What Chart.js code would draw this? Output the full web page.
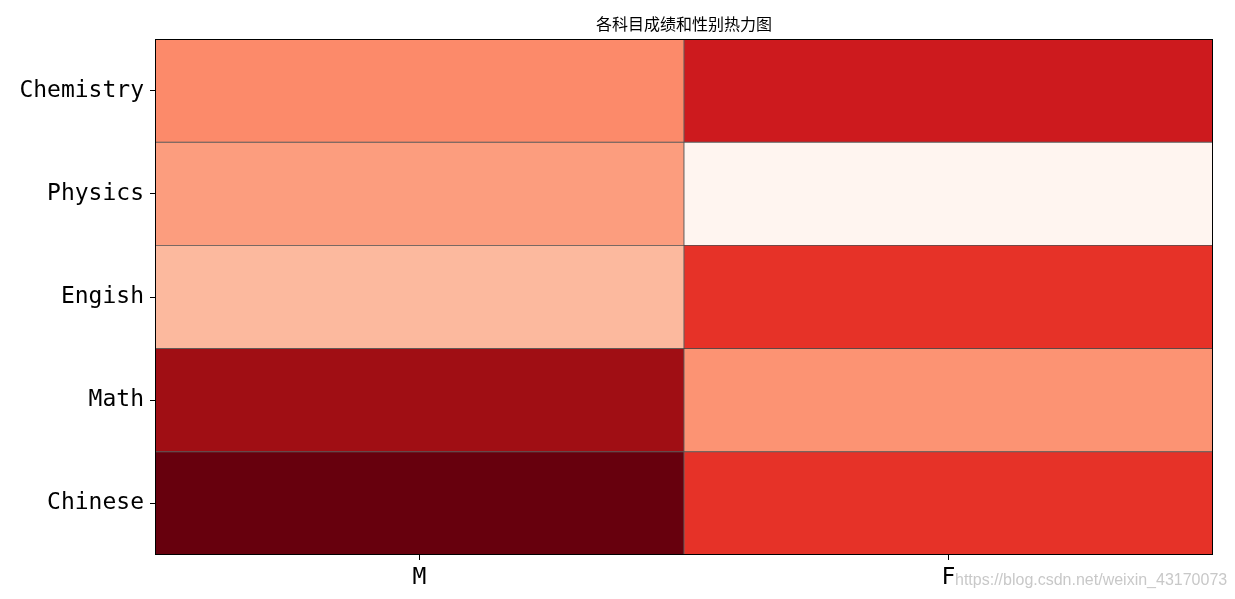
<!DOCTYPE html>
<html lang="zh">
<head>
<meta charset="UTF-8">
<title>各科目成绩和性别热力图</title>
<script src="https://cdn.jsdelivr.net/npm/chart.js"></script>
<style>
    body{margin:0;background:#fff;}
    #wrap{position:relative;width:1235px;height:599px;}
    #mark{
        position:absolute;left:955px;top:571px;
        font-family:"Liberation Sans",Arial,sans-serif;font-size:16px;
        color:rgba(190,190,190,0.85);
    }
</style>
</head>
<body>
<div id="wrap">
    <canvas id="heat" width="1235" height="599"></canvas>
    <div id="mark">https://blog.csdn.net/weixin_43170073</div>
</div>
<script>
// rows bottom -> top
const subjects = ["Chinese", "Math", "Engish", "Physics", "Chemistry"];
const genders = ["M", "F"];
const scoresM = [95, 91, 69, 72, 74];
const scoresF = [83, 73, 83, 60, 86];
const title = "各科目成绩和性别热力图";

// matplotlib "Reds"
const reds = ["#fff5f0","#fee0d2","#fcbba1","#fc9272","#fb6a4a","#ef3b2c","#cb181d","#a50f15","#67000d"];

function hex(h){return [1,3,5].map(i=>parseInt(h.substr(i,2),16))}
function redColor(v, lo, hi){
    let f=(v-lo)/(hi-lo);
    f=Math.max(0,Math.min(1,f))*(reds.length-1);
    const i=Math.min(Math.floor(f),reds.length-2), t=f-i;
    const a=hex(reds[i]), b=hex(reds[i+1]);
    const c=a.map((x,k)=>Math.round(x+(b[k]-x)*t));
    return `rgb(${c[0]},${c[1]},${c[2]})`;
}

const all=scoresM.concat(scoresF);
const lo=Math.min(...all), hi=Math.max(...all);

const datasets=subjects.map((s,i)=>({
    label:s,
    data:[1,1],
    backgroundColor:[redColor(scoresM[i],lo,hi),redColor(scoresF[i],lo,hi)],
    borderColor:"rgba(50,50,50,0.75)",
    borderWidth:0.8,
    borderSkipped:false,
    barPercentage:1,
    categoryPercentage:1
}));

// frame round the plot + title centred over it
const frame={
    id:"frame",
    afterDatasetsDraw(chart){
        const a=chart.chartArea, ctx=chart.ctx;
        ctx.save();
        ctx.strokeStyle="#000";
        ctx.lineWidth=1;
        ctx.strokeRect(a.left+0.5,a.top+0.5,a.right-a.left-1,a.bottom-a.top-1);
        ctx.fillStyle="#000";
        ctx.font="16px 'Noto Sans CJK SC', sans-serif";
        ctx.textAlign="center";
        ctx.textBaseline="middle";
        ctx.fillText(title,(a.left+a.right)/2,24);
        ctx.restore();
    }
};

const tickFont={family:"'DejaVu Sans Mono','Liberation Mono',monospace",size:23};

new Chart(document.getElementById("heat"),{
    type:"bar",
    data:{labels:genders,datasets:datasets},
    plugins:[frame],
    options:{
        responsive:false,
        animation:false,
        layout:{padding:{left:0,right:22,top:39,bottom:0}},
        plugins:{
            legend:{display:false},
            tooltip:{enabled:false},
            title:{display:false}
        },
        scales:{
            x:{
                stacked:true,
                grid:{display:true,drawOnChartArea:false,drawTicks:true,tickLength:5,color:"#000",offset:false},
                border:{display:false},
                ticks:{color:"#000",font:tickFont,padding:4},
                afterFit(scale){scale.height=44;}
            },
            y:{
                stacked:true,
                min:0,max:subjects.length,
                grid:{display:true,drawOnChartArea:false,drawTicks:true,tickLength:5,color:"#000"},
                border:{display:false},
                afterBuildTicks(scale){scale.ticks=subjects.map((s,i)=>({value:i+0.5}));},
                ticks:{color:"#000",font:tickFont,padding:6,callback:(v)=>subjects[Math.floor(v)]},
                afterFit(scale){scale.width=155;}
            }
        }
    }
});
</script>
</body>
</html>
